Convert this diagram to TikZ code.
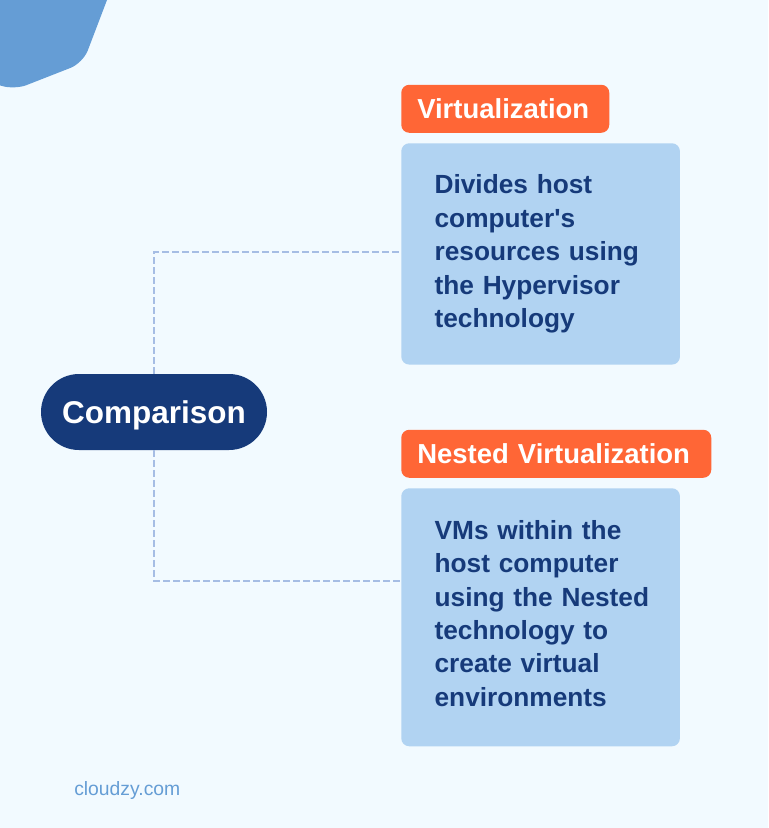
\documentclass[tikz,border=0pt]{standalone}
\usepackage{fontspec}
\setmainfont{Liberation Sans}
\newfontfamily\medfont[WordSpace=0.8]{Liberation Sans Bold}
\definecolor{pagebg}{HTML}{F2FAFF}
\definecolor{cornerblue}{HTML}{659DD5}
\definecolor{navy}{HTML}{163A7A}
\definecolor{tagorange}{HTML}{FF6636}
\definecolor{boxblue}{HTML}{B1D3F2}
\definecolor{dashblue}{HTML}{A6BDE4}
\tikzset{
    tagbox/.style={fill=tagorange, text=white, rounded corners=6pt, anchor=north west, minimum height=36pt, inner sep=0pt, inner xsep=12pt, align=left, font=\medfont\fontsize{20.6}{24}\selectfont},
    infobox/.style={fill=boxblue, text=navy, rounded corners=6pt, anchor=north west, minimum width=209pt, inner sep=0pt, inner xsep=25pt, align=left, text width=159pt, font=\medfont\fontsize{19.7}{25.1}\selectfont},
    linkline/.style={draw=dashblue, line width=1pt, dash pattern=on 5pt off 2.5pt},
}
\begin{document}
\begin{tikzpicture}[x=0.75pt, y=-0.75pt]
    %page and corner shape
    \useasboundingbox (0, 0) rectangle (768, 828);
    \fill[pagebg] (0, 0) rectangle (768, 828);
    \begin{scope}
        \clip (0, 0) rectangle (768, 828);
        \fill[cornerblue, rounded corners=10pt] (115, -21) -- (83, 63) -- (14, 90) -- (-40, 72) -- (-40, -21) -- cycle;
    \end{scope}
    %draw boxes
    \node[fill=navy, text=white, rounded corners=28.5pt, minimum width=169.5pt, minimum height=57pt, inner sep=0pt, text depth=0pt, font=\medfont\fontsize{23.6}{28}\selectfont] (pill) at (154, 412) {Comparison};
    \node[tagbox, text width=132pt] (tagone) at (401, 84.5) {Virtualization};
    \node[infobox, minimum height=166pt] (boxone) at (401, 143) {Divides host\\computer's\\resources using\\the Hypervisor\\technology};
    \node[tagbox, text width=208.5pt] (tagtwo) at (401, 429.5) {Nested Virtualization};
    \node[infobox, minimum height=193.5pt] (boxtwo) at (401, 488) {VMs within the\\host computer\\\mbox{using the Nested}\\technology to\\create virtual\\environments\rule[-6pt]{0pt}{6pt}};
    %draw dashed links
    \coordinate (linkone) at (401, 252);
    \coordinate (linktwo) at (401, 581);
    \draw[linkline] (pill.north) |- (linkone);
    \draw[linkline] (pill.south) |- (linktwo);
    %label site
    \node[anchor=west, inner sep=0pt, text=cornerblue, font=\fontsize{14.5}{18}\selectfont] (site) at (74, 790) {cloudzy.com};
\end{tikzpicture}
\end{document}
